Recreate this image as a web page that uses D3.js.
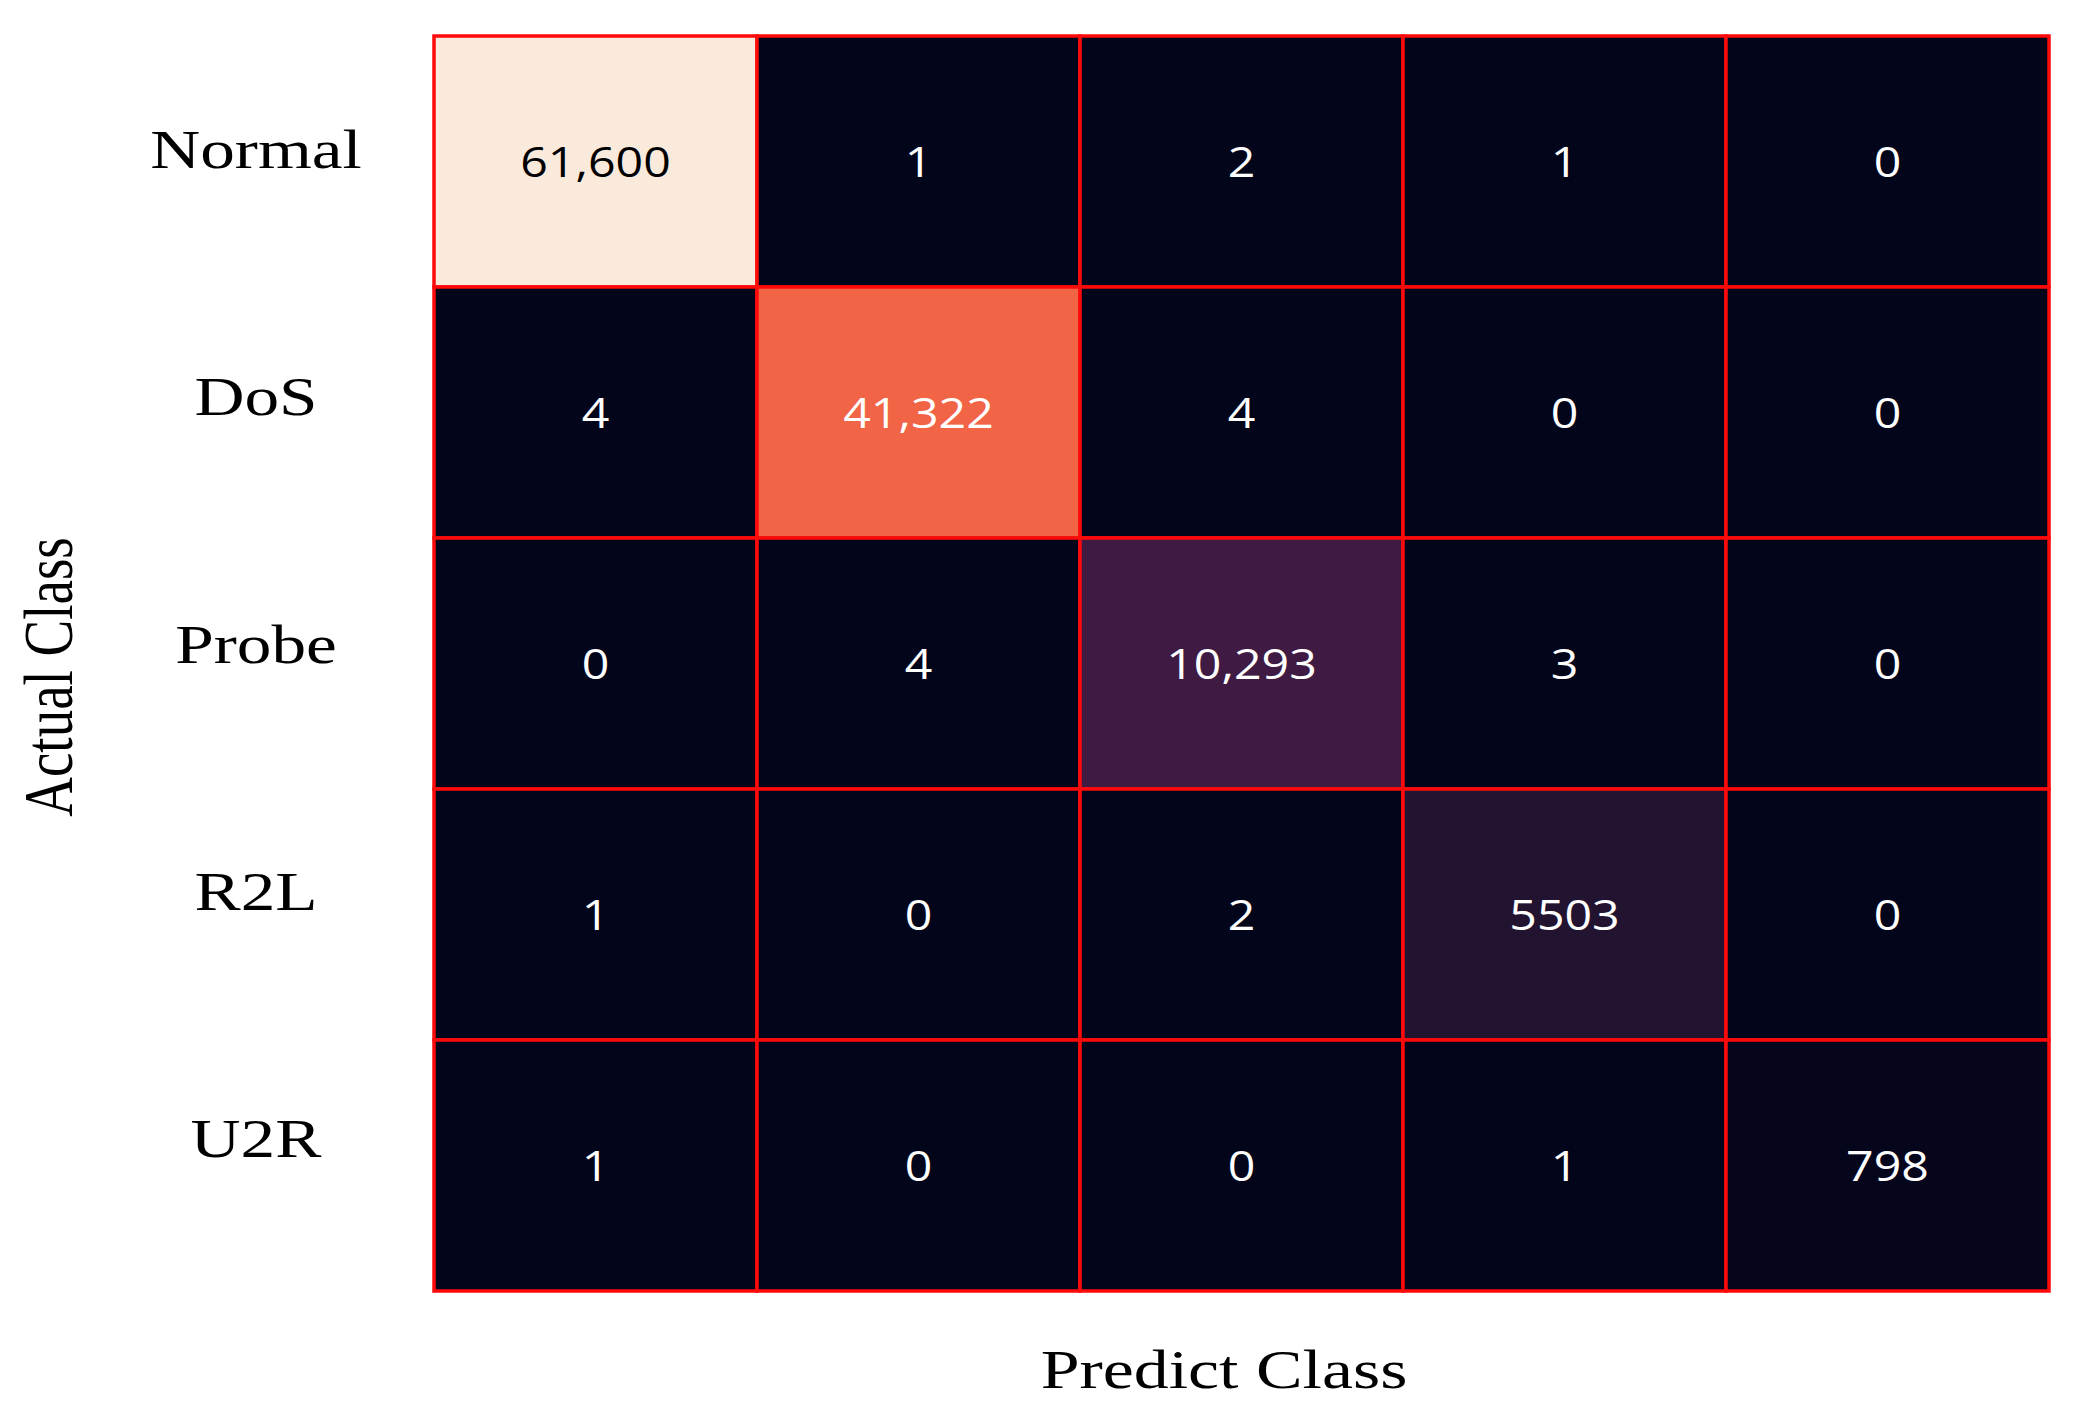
<!DOCTYPE html>
<meta charset="utf-8">
<style>
body { margin: 0; background: #fff; }
.label { font-family: "Liberation Serif", "Times New Roman", serif; fill: #000; }
.val { font-family: "Open Sans", "Noto Sans", sans-serif; }
</style>
<svg width="2082" height="1420"></svg>
<script src="https://cdn.jsdelivr.net/npm/d3@7"></script>
<script>

var svg = d3.select("svg");

// confusion matrix data
var actualClasses = ["Normal", "DoS", "Probe", "R2L", "U2R"];
var predictClasses = ["Normal", "DoS", "Probe", "R2L", "U2R"];
var counts = [
  [61600, 1, 2, 1, 0],
  [4, 41322, 4, 0, 0],
  [0, 4, 10293, 3, 0],
  [1, 0, 2, 5503, 0],
  [1, 0, 0, 1, 798]
];

var cells = [];
counts.forEach(function(row, i) {
  row.forEach(function(v, j) {
    cells.push({ actual: actualClasses[i], predict: predictClasses[j], value: v });
  });
});

var x = d3.scaleBand().domain(predictClasses).range([434, 2049]);
var y = d3.scaleBand().domain(actualClasses).range([36, 1291]);
// row labels sit a little above the cell centres in the original
var yLabel = d3.scalePoint().domain(actualClasses).range([168, 1157]);

var maxVal = d3.max(cells, function(d) { return d.value; });
// approximation of the seaborn "rocket" colormap
var color = d3.scaleLinear()
    .domain([0, 0.02, 0.089, 0.167, 0.3, 0.4, 0.5, 0.6, 0.67, 0.8, 1].map(function(t) { return t * maxVal; }))
    .range(["#03051a", "#06071d", "#221331", "#3f1b44", "#701f57", "#a11a5b", "#cb1b4f", "#e8453f", "#f16445", "#f6a47c", "#faeadc"]);

var fmt = function(v) { return v >= 10000 ? d3.format(",")(v) : String(v); };

svg.append("g")
  .selectAll("rect")
  .data(cells)
  .enter().append("rect")
    .attr("x", function(d) { return x(d.predict); })
    .attr("y", function(d) { return y(d.actual); })
    .attr("width", x.bandwidth())
    .attr("height", y.bandwidth())
    .attr("fill", function(d) { return color(d.value); })
    .attr("stroke", "#ff0a0a")
    .attr("stroke-width", 3.5);

svg.append("g")
  .selectAll("text")
  .data(cells)
  .enter().append("text")
    .attr("class", "val")
    .attr("text-anchor", "middle")
    .attr("dy", "0.36em")
    .attr("font-size", 42)
    .attr("transform", function(d) {
      return "translate(" + (x(d.predict) + x.bandwidth() / 2) + "," + (y(d.actual) + y.bandwidth() / 2) + ") scale(1.15,1)";
    })
    .attr("fill", function(d) { return d.value / maxVal > 0.8 ? "#000" : "#fff"; })
    .text(function(d) { return fmt(d.value); });

svg.append("g")
  .selectAll("text")
  .data(actualClasses)
  .enter().append("text")
    .attr("class", "label")
    .attr("text-anchor", "middle")
    .attr("font-size", 55)
    .attr("transform", function(d) { return "translate(256," + yLabel(d) + ") scale(1.26,1)"; })
    .text(function(d) { return d; });

svg.append("text")
    .attr("class", "label")
    .attr("text-anchor", "middle")
    .attr("font-size", 55)
    .attr("transform", "translate(72,677) scale(1.25,1) rotate(-90)")
    .text("Actual Class");

svg.append("text")
    .attr("class", "label")
    .attr("text-anchor", "middle")
    .attr("font-size", 55)
    .attr("transform", "translate(1224,1388) scale(1.27,1)")
    .text("Predict Class");

</script>
